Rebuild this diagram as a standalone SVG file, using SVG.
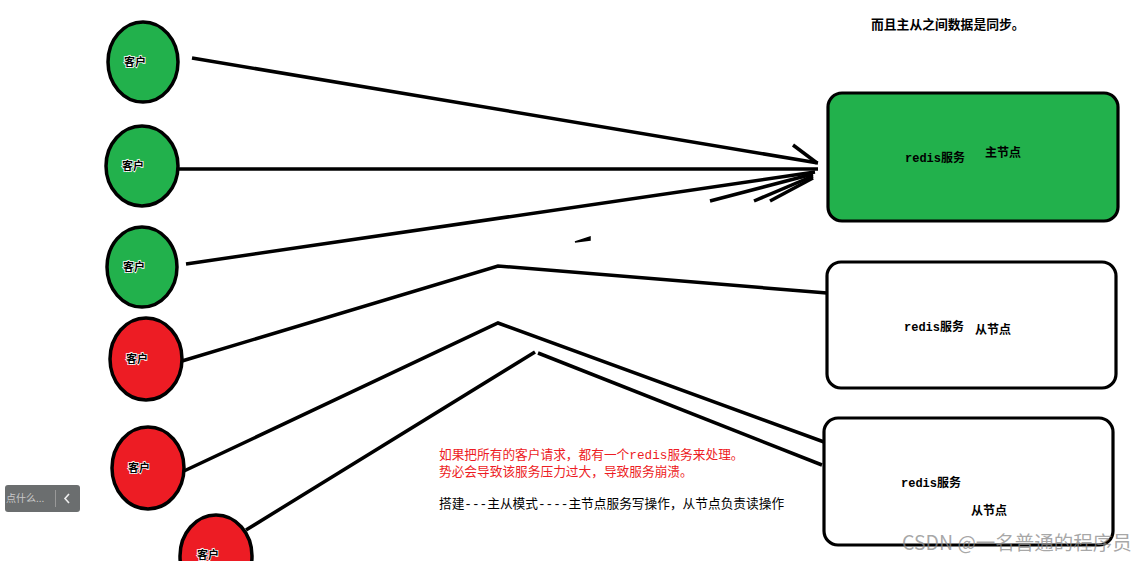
<svg xmlns="http://www.w3.org/2000/svg" width="1148" height="561" viewBox="0 0 1148 561">
<style>
.cg{fill:#22b14c;stroke:#000;stroke-width:3.5}
.cr{fill:#ed1c24;stroke:#000;stroke-width:3.5}
.ct{font-family:"Noto Sans CJK SC",sans-serif;font-size:11px;fill:#000;stroke:#fff;stroke-width:1.6;paint-order:stroke;font-weight:bold}
.box{stroke:#000;stroke-width:3.2}
.t{font-family:"Liberation Mono","Noto Sans CJK SC",monospace;font-size:12px;fill:#000;font-weight:bold}
.ln{fill:none;stroke:#000;stroke-width:3.5;stroke-linecap:butt;stroke-linejoin:miter}
.note{font-family:"Liberation Mono","Noto Sans CJK SC",monospace;font-size:12.7px}
</style>
<rect width="1148" height="561" fill="#fff"/>
<g id="connectors">
<line class="ln" x1="192" y1="58" x2="818" y2="163"/>
<line class="ln" x1="178" y1="169" x2="818" y2="169"/>
<line class="ln" x1="186" y1="264" x2="815" y2="172"/>
<line class="ln" x1="793" y1="145" x2="817" y2="163"/>
<line class="ln" x1="710" y1="201" x2="813" y2="174"/>
<line class="ln" x1="754" y1="201" x2="813" y2="176"/>
<line class="ln" x1="770" y1="201" x2="813" y2="178"/>
<path d="M575 242 L590 237 L590 240 Z" fill="#000" stroke="#000" stroke-width="1.5"/>
<polyline class="ln" points="182,361 498,266 827,293"/>
<polyline class="ln" points="184,471 498,323 835,446"/>
<polyline class="ln" points="246,530 535,352"/>
<line class="ln" x1="538" y1="353" x2="822" y2="465"/>
</g>
<g id="client1"><ellipse class="cg" cx="143" cy="62" rx="35" ry="40"/><text class="ct" x="124" y="66">客户</text></g>
<g id="client2"><ellipse class="cg" cx="142" cy="166" rx="36" ry="40"/><text class="ct" x="122" y="170">客户</text></g>
<g id="client3"><ellipse class="cg" cx="142" cy="267" rx="35" ry="40"/><text class="ct" x="123" y="271">客户</text></g>
<g id="client4"><ellipse class="cr" cx="146" cy="359" rx="36" ry="41"/><text class="ct" x="126" y="363">客户</text></g>
<g id="client5"><ellipse class="cr" cx="148" cy="468" rx="36" ry="41"/><text class="ct" x="128" y="472">客户</text></g>
<g id="client6"><ellipse class="cr" cx="216" cy="556" rx="36" ry="41"/><text class="ct" x="197" y="559">客户</text></g>
<g id="master">
<rect class="box" x="828" y="93" width="290" height="128" rx="14" fill="#22b14c"/>
<text class="t" x="905" y="162">redis服务</text>
<text class="t" x="985" y="157" font-weight="normal">主节点</text>
</g>
<g id="slave1">
<rect class="box" x="827" y="262" width="289" height="126" rx="14" fill="#fff"/>
<text class="t" x="904" y="331">redis服务</text>
<text class="t" x="975" y="334">从节点</text>
</g>
<g id="slave2">
<rect class="box" x="824" y="418" width="289" height="127" rx="14" fill="#fff"/>
<text class="t" x="901" y="487">redis服务</text>
<text class="t" x="971" y="515">从节点</text>
</g>
<text x="871" y="29" font-family="Noto Sans CJK SC,sans-serif" font-size="12.8" font-weight="bold" fill="#000">而且主从之间数据是同步。</text>
<text class="note" x="439" y="459" fill="#ed1c24">如果把所有的客户请求，都有一个redis服务来处理。</text>
<text class="note" x="439" y="476" fill="#ed1c24">势必会导致该服务压力过大，导致服务崩溃。</text>
<text class="note" x="439" y="508" fill="#000">搭建---主从模式----主节点服务写操作，从节点负责读操作</text>
<text x="902" y="550" font-family="Noto Sans CJK SC,sans-serif" font-size="19.5" fill="#8a8a8a" fill-opacity="0.75">CSDN @一名普通的程序员</text>
<g id="sidebar">
<rect x="5" y="485" width="75" height="27" rx="3" fill="#6b6e6f"/>
<text x="6" y="502" font-family="Noto Sans CJK SC,sans-serif" font-size="10" fill="#c8c8c8">点什么...</text>
<line x1="55.5" y1="490" x2="55.5" y2="507" stroke="#999" stroke-width="1"/>
<path d="M69 494 L65 498.5 L69 503" fill="none" stroke="#eee" stroke-width="1.6"/>
</g>
</svg>
